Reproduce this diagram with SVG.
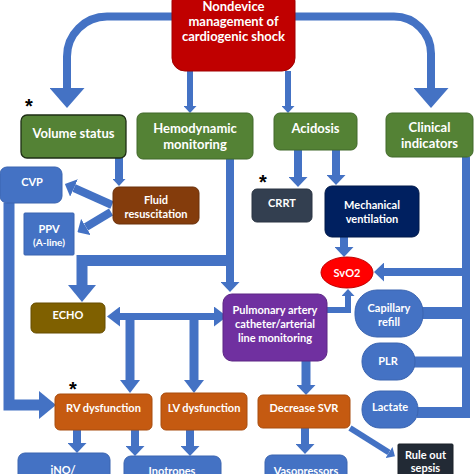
<svg xmlns="http://www.w3.org/2000/svg" width="474" height="474" viewBox="0 0 474 474">
<defs>
<style>
.t{font-family:Lato,"Liberation Sans",sans-serif;font-weight:bold;fill:#fff;text-anchor:middle}
.big{font-size:13px}
.sm{font-size:11px}
.ast{font-family:"Liberation Sans",sans-serif;font-weight:bold;font-size:20px;fill:#000;text-anchor:middle}
.gr{fill:#548235;stroke:#41692a;stroke-width:1}
.bl{fill:#4472c4;stroke:#3a64b0;stroke-width:1}
.or{fill:#c55a11;stroke:#a84c0e;stroke-width:1}
.c{fill:none;stroke:#4472c4;stroke-linejoin:miter}
</style>
<marker id="hS" markerUnits="userSpaceOnUse" markerWidth="7" markerHeight="13" viewBox="0 0 7 13" refX="0" refY="6.5" orient="auto"><path d="M0,0 L7,6.5 L0,13 Z" fill="#4472c4"/></marker>
<marker id="hM" markerUnits="userSpaceOnUse" markerWidth="10" markerHeight="19" viewBox="0 0 10 19" refX="0" refY="9.5" orient="auto"><path d="M0,0 L10,9.5 L0,19 Z" fill="#4472c4"/></marker>
<marker id="hD" markerUnits="userSpaceOnUse" markerWidth="13" markerHeight="20" viewBox="0 0 13 20" refX="0" refY="10" orient="auto-start-reverse"><path d="M0,0 L13,10 L0,20 Z" fill="#4472c4"/></marker>
<marker id="hW" markerUnits="userSpaceOnUse" markerWidth="17" markerHeight="28" viewBox="0 0 17 28" refX="0" refY="14" orient="auto"><path d="M0,0 L17,14 L0,28 Z" fill="#4472c4"/></marker>
<marker id="hL" markerUnits="userSpaceOnUse" markerWidth="20" markerHeight="35" viewBox="0 0 20 35" refX="0" refY="17.5" orient="auto"><path d="M0,0 L20,17.5 L0,35 Z" fill="#4472c4"/></marker>
</defs>
<rect width="474" height="474" fill="#fff"/>

<g id="connectors">
<path class="c" d="M172,16.5 H107 A40,40 0 0 0 67,56.5 V88" stroke-width="8" marker-end="url(#hL)"/>
<path class="c" d="M295,16.5 H394 A37,37 0 0 1 431,53.5 V88" stroke-width="8" marker-end="url(#hL)"/>
<path class="c" d="M190,71 V106" stroke-width="6" marker-end="url(#hS)"/>
<path class="c" d="M288,71 V106" stroke-width="6" marker-end="url(#hS)"/>
<path class="c" d="M119,158 V179" stroke-width="8" marker-end="url(#hS)"/>
<path class="c" d="M112,205 L74,188" stroke-width="8" marker-end="url(#hM)"/>
<path class="c" d="M111,212 L86,227" stroke-width="8" marker-end="url(#hM)"/>
<path class="c" d="M9,203 V405 H39" stroke-width="11" marker-end="url(#hW)"/>
<path class="c" d="M230,159 V282" stroke-width="8" marker-end="url(#hM)"/>
<path class="c" d="M230,260.5 H82 V285" stroke-width="11" marker-end="url(#hW)"/>
<path class="c" d="M298,150 V177" stroke-width="8" marker-end="url(#hM)"/>
<path class="c" d="M336,150 V175" stroke-width="8" marker-end="url(#hM)"/>
<path class="c" d="M344,237 V247" stroke-width="8" marker-end="url(#hM)"/>
<path class="c" d="M466,157 V418" stroke-width="8"/>
<path class="c" d="M466,272 H384" stroke-width="8" marker-end="url(#hM)"/>
<path class="c" d="M422,313 H470" stroke-width="12"/>
<path class="c" d="M414,362 H470" stroke-width="11"/>
<path class="c" d="M417,412.5 H470" stroke-width="11"/>
<path class="c" d="M327,310 H348 V296" stroke-width="6" marker-end="url(#hS)"/>
<path class="c" d="M120,316.5 H214" stroke-width="7" marker-start="url(#hD)" marker-end="url(#hD)"/>
<path class="c" d="M130,317 V380" stroke-width="9" marker-end="url(#hD)"/>
<path class="c" d="M194,317 V380" stroke-width="9" marker-end="url(#hD)"/>
<path class="c" d="M306,361 V385" stroke-width="9" marker-end="url(#hM)"/>
<path class="c" d="M77,430 V443" stroke-width="8" marker-end="url(#hM)"/>
<path class="c" d="M135,430 V446" stroke-width="8" marker-end="url(#hM)"/>
<path class="c" d="M190,430 V446" stroke-width="8" marker-end="url(#hM)"/>
<path class="c" d="M305,428 V444" stroke-width="8" marker-end="url(#hM)"/>
<path class="c" d="M350,428 L389,452.5" stroke-width="6" marker-end="url(#hS)"/>
</g>

<g id="top">
<rect x="172" y="-12" width="123" height="83" rx="13" fill="#c00000" stroke="#a00000"/>
<text class="t big" x="233.5" y="11">Nondevice</text>
<text class="t big" x="233.5" y="26">management of</text>
<text class="t big" x="233.5" y="41">cardiogenic shock</text>
</g>
<g id="volume">
<rect x="21" y="115" width="105" height="43" rx="6" fill="#548235" stroke="#1e2e14" stroke-width="1.3"/>
<text class="t big" x="73.5" y="138">Volume status</text>
</g>
<g id="hemo">
<rect class="gr" x="137" y="113" width="116" height="46" rx="6"/>
<text class="t big" x="195" y="132.5">Hemodynamic</text>
<text class="t big" x="195" y="148.5">monitoring</text>
</g>
<g id="acidosis">
<rect class="gr" x="274" y="113" width="83" height="37" rx="6"/>
<text class="t big" x="315.5" y="132.5">Acidosis</text>
</g>
<g id="clinical">
<rect class="gr" x="386" y="113" width="87" height="44" rx="6"/>
<text class="t big" x="429.5" y="131.5">Clinical</text>
<text class="t big" x="429.5" y="147.5">indicators</text>
</g>
<g id="cvp">
<rect class="bl" x="0" y="167" width="62" height="36" rx="7"/>
<text class="t sm" x="32" y="186">CVP</text>
</g>
<g id="fluid">
<rect x="113" y="187" width="86" height="37" rx="6" fill="#843c0c" stroke="#6a300a"/>
<text class="t sm" x="156" y="204">Fluid</text>
<text class="t sm" x="156" y="218">resuscitation</text>
</g>
<g id="ppv">
<rect class="bl" x="24" y="213" width="50" height="42" rx="1"/>
<text class="t sm" x="49" y="232.5">PPV</text>
<text class="t" style="font-size:10px" x="49" y="246">(A-line)</text>
</g>
<g id="crrt">
<rect x="252" y="189" width="60" height="33" rx="5" fill="#333f50" stroke="#2a3442"/>
<text class="t sm" x="282" y="206.5">CRRT</text>
</g>
<g id="mechvent">
<rect x="325" y="186" width="94" height="51" rx="7" fill="#002060" stroke="#001848"/>
<text class="t sm" x="372" y="209">Mechanical</text>
<text class="t sm" x="372" y="223">ventilation</text>
</g>
<g id="svo2">
<ellipse cx="347" cy="272.5" rx="26" ry="15.5" fill="#ff0000" stroke="#c00000"/>
<text class="t sm" x="347" y="276.5">SvO2</text>
</g>
<g id="echo">
<rect x="31" y="303" width="74" height="30" rx="5" fill="#7f6000" stroke="#664d00"/>
<text class="t sm" x="68" y="318.5">ECHO</text>
</g>
<g id="pac">
<rect x="223" y="294" width="104" height="67" rx="9" fill="#7030a0" stroke="#5c2784"/>
<text class="t sm" x="275" y="314">Pulmonary artery</text>
<text class="t sm" x="275" y="328">catheter/arterial</text>
<text class="t sm" x="275" y="342">line monitoring</text>
</g>
<g id="capillary">
<rect class="bl" x="355" y="290" width="68" height="47" rx="22"/>
<text class="t sm" x="389" y="312">Capillary</text>
<text class="t sm" x="389" y="326">refill</text>
</g>
<g id="plr">
<rect class="bl" x="362" y="343" width="53" height="37" rx="18"/>
<text class="t sm" x="388" y="365">PLR</text>
</g>
<g id="lactate">
<rect class="bl" x="362" y="391" width="56" height="37" rx="18"/>
<text class="t sm" x="390" y="411">Lactate</text>
</g>
<g id="rv">
<rect class="or" x="55" y="394" width="97" height="36" rx="5"/>
<text class="t sm" x="103.5" y="412">RV dysfunction</text>
</g>
<g id="lv">
<rect class="or" x="161" y="393" width="86" height="37" rx="5"/>
<text class="t sm" x="204" y="412">LV dysfunction</text>
</g>
<g id="svr">
<rect class="or" x="258" y="395" width="92" height="33" rx="5"/>
<text class="t sm" x="304" y="412">Decrease SVR</text>
</g>
<g id="ino">
<rect class="bl" x="18" y="453" width="92" height="40" rx="7"/>
<text class="t sm" x="63" y="474">iNO/</text>
</g>
<g id="inotropes">
<rect class="bl" x="124" y="456" width="97" height="40" rx="7"/>
<text class="t sm" x="172" y="475">Inotropes</text>
</g>
<g id="vaso">
<rect class="bl" x="265" y="455" width="82" height="40" rx="7"/>
<text class="t sm" x="306" y="475">Vasopressors</text>
</g>
<g id="sepsis">
<rect x="398" y="444" width="55" height="40" rx="1" fill="#222a35" stroke="#1a2029"/>
<text class="t sm" x="425.5" y="458.5">Rule out</text>
<text class="t sm" x="425.5" y="472">sepsis</text>
</g>
<g id="asterisks">
<text class="ast" x="29" y="113">*</text>
<text class="ast" x="263" y="189">*</text>
<text class="ast" x="73" y="396">*</text>
</g>
</svg>
